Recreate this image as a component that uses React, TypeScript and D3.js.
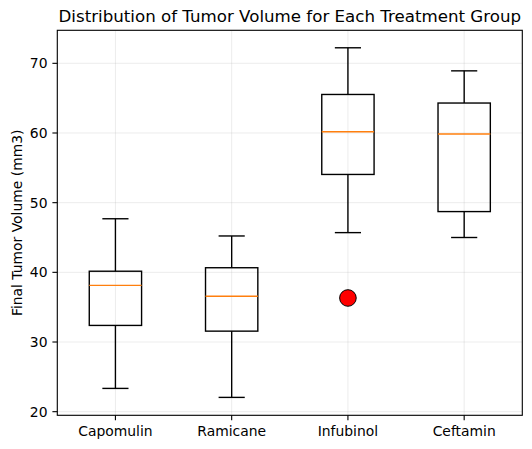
import React from "react";
import * as d3 from "d3";

const categories = ["Capomulin", "Ramicane", "Infubinol", "Ceftamin"];
const q1 = [32.38, 31.56, 54.05, 48.72];
const medians = [38.13, 36.56, 60.17, 59.85];
const q3 = [40.16, 40.66, 65.53, 64.3];
const whiskerLow = [23.34, 22.05, 45.7, 45.0];
const whiskerHigh = [47.69, 45.22, 72.23, 68.92];
const outliers: number[][] = [[], [], [36.32], []];
const yTicks = [20, 30, 40, 50, 60, 70];

const W = 532;
const H = 449;
const left = 57.3;
const right = 522.3;
const top = 30.3;
const bottom = 415.3;
const font = "DejaVu Sans, sans-serif";

export default function App() {
  const x = d3.scaleLinear().domain([0.5, 4.5]).range([left, right]);
  const y = d3.scaleLinear().domain([19.48, 74.74]).range([bottom, top]);
  const step = x(2) - x(1);
  const boxW = step * 0.45;
  const capW = boxW / 2;

  return (
    <svg
      width={W}
      height={H}
      style={{ position: "absolute", left: 0, top: 0, background: "white" }}
      fontFamily={font}
    >
      <rect x={0} y={0} width={W} height={H} fill="white" />
      {/* grid */}
      <g stroke="#b0b0b0" strokeOpacity={0.3} strokeWidth={0.8}>
        {yTicks.map((t) => (
          <line key={"gy" + t} x1={left} x2={right} y1={y(t)} y2={y(t)} />
        ))}
        {categories.map((c, i) => (
          <line key={"gx" + c} x1={x(i + 1)} x2={x(i + 1)} y1={top} y2={bottom} />
        ))}
      </g>
      {/* boxes */}
      {categories.map((c, i) => {
        const cx = x(i + 1);
        return (
          <g key={c} fill="none" stroke="black" strokeWidth={1.39}>
            <rect x={cx - boxW / 2} y={y(q3[i])} width={boxW} height={y(q1[i]) - y(q3[i])} />
            <line x1={cx} x2={cx} y1={y(q1[i])} y2={y(whiskerLow[i])} />
            <line x1={cx} x2={cx} y1={y(q3[i])} y2={y(whiskerHigh[i])} />
            <line x1={cx - capW / 2} x2={cx + capW / 2} y1={y(whiskerLow[i])} y2={y(whiskerLow[i])} />
            <line x1={cx - capW / 2} x2={cx + capW / 2} y1={y(whiskerHigh[i])} y2={y(whiskerHigh[i])} />
            <line
              x1={cx - boxW / 2}
              x2={cx + boxW / 2}
              y1={y(medians[i])}
              y2={y(medians[i])}
              stroke="#ff7f0e"
            />
            {outliers[i].map((o, j) => (
              <circle key={j} cx={cx} cy={y(o)} r={8.3} fill="red" stroke="black" strokeWidth={1} />
            ))}
          </g>
        );
      })}
      {/* spines */}
      <rect x={left} y={top} width={right - left} height={bottom - top} fill="none" stroke="black" strokeWidth={1.11} />
      {/* y ticks */}
      {yTicks.map((t) => (
        <g key={"yt" + t}>
          <line x1={left - 4.9} x2={left} y1={y(t)} y2={y(t)} stroke="black" strokeWidth={1.11} />
          <text x={left - 9.8} y={y(t)} dy="0.36em" textAnchor="end" fontSize={13.9} fill="black">
            {t}
          </text>
        </g>
      ))}
      {/* x ticks */}
      {categories.map((c, i) => (
        <g key={"xt" + c}>
          <line x1={x(i + 1)} x2={x(i + 1)} y1={bottom} y2={bottom + 4.9} stroke="black" strokeWidth={1.11} />
          <text x={x(i + 1)} y={435.5} textAnchor="middle" fontSize={13.9} fill="black">
            {c}
          </text>
        </g>
      ))}
      <text
        transform={`translate(22,${(top + bottom) / 2}) rotate(-90)`}
        textAnchor="middle"
        fontSize={13.9}
        fill="black"
      >
        Final Tumor Volume (mm3)
      </text>
      <text x={(left + right) / 2} y={22} textAnchor="middle" fontSize={16.67} fill="black">
        Distribution of Tumor Volume for Each Treatment Group
      </text>
    </svg>
  );
}
